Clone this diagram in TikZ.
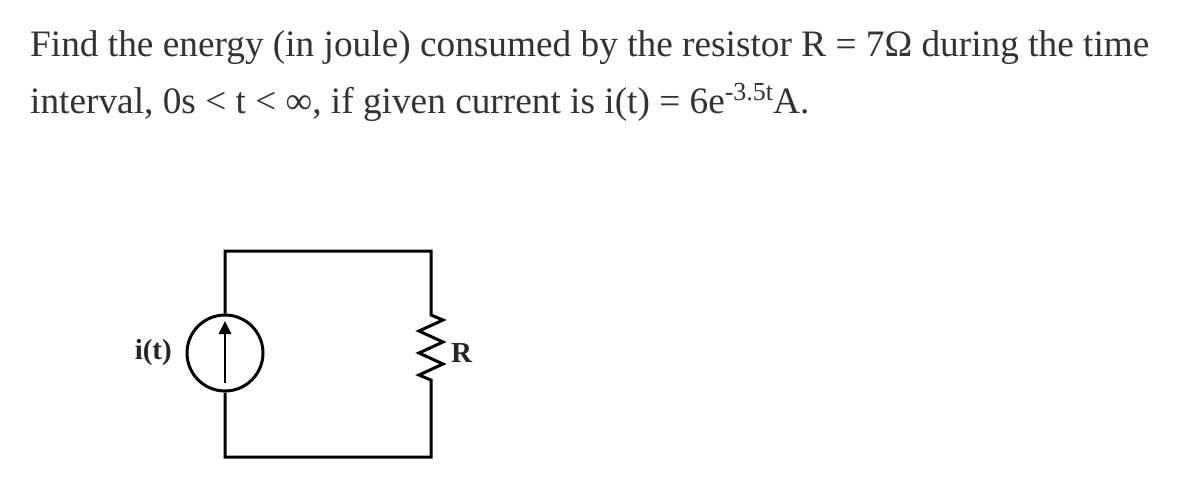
\documentclass[tikz,border=0pt]{standalone}
\usepackage{fontspec}
\setmainfont{Liberation Serif}
\usetikzlibrary{arrows.meta}
\begin{document}
\begin{tikzpicture}[x=1pt,y=-1pt,
  txt/.style={anchor=base west,inner sep=0pt,text=black!80,font=\fontsize{37.3}{40}\selectfont},
  wire/.style={line width=3pt,line join=miter},
  lbl/.style={font=\fontsize{29}{32}\selectfont\bfseries,text=black!85,inner sep=0pt}]
\useasboundingbox (0,0) rectangle (1192,482);
\node[txt] (l1) at (30,56) {Find the energy (in joule) consumed by the resistor R = 7Ω during the time};
\node[txt] (l2) at (30,113) {interval, 0s < t < ∞, if given current is i(t) = 6e\raisebox{13pt}{\fontsize{26}{28}\selectfont -3.5t}A.};
\node[circle,draw,line width=3pt,minimum size=76pt,inner sep=0pt] (src) at (225,353) {};
\coordinate (tl) at (225,251); \coordinate (tr) at (431,251);
\coordinate (bl) at (225,457); \coordinate (br) at (431,457);
\coordinate (rt) at (431,315); \coordinate (rb) at (431,392);
\draw[wire] (src.north) -- (tl) -- (tr) -- (rt)
  -- ++(12,5) -- ++(-24,11) -- ++(24,11) -- ++(-24,11) -- ++(24,11) -- ++(-24,11) -- ++(12,5) -- (rb)
  -- (br) -- (bl) -- (src.south);
\draw[line width=2.6pt,-{Triangle[length=13pt,width=12pt]}] (225,383) -- (225,321);
\node[lbl,anchor=east] (it) at (172,353) {i(t)};
\node[lbl,anchor=west] (R) at (451,353) {R};
\end{tikzpicture}
\end{document}
